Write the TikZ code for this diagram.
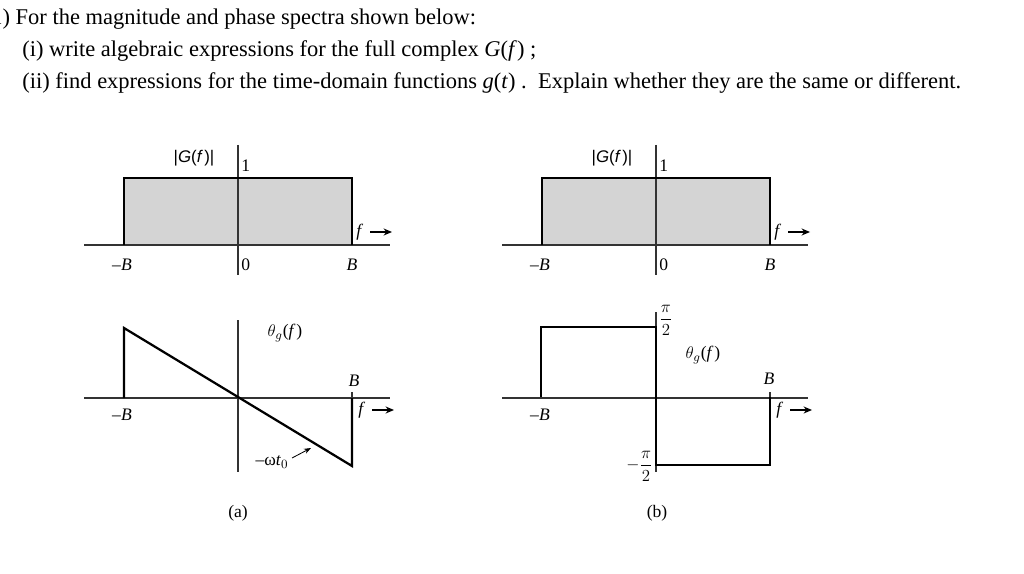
\documentclass[tikz,border=0pt]{standalone}
\usepackage{fontspec}
\usetikzlibrary{arrows.meta}
\setmainfont{Liberation Serif}
\newfontfamily\lab{Liberation Sans}
\begin{document}
\begin{tikzpicture}[x=0.25mm,y=-0.25mm,
  ax/.style={line width=0.8pt,black!80},
  sig/.style={line width=1.6pt},
  hdr/.style={anchor=base west,inner sep=0,font=\fontsize{16}{18}\selectfont},
  lbl/.style={inner sep=0,font=\fontsize{12.5}{14}\selectfont},
  tip/.style={-{Stealth[length=6pt,width=5pt]},line width=0.8pt}]
\useasboundingbox[clip] (0,0) rectangle (1024,574);
\fill[white] (0,0) rectangle (1024,574);
\node[hdr] (h1) at (-9,25) {1) For the magnitude and phase spectra shown below:};
\node[hdr] (h2) at (22,57) {(i) write algebraic expressions for the full complex \textit{G}(\textit{f}) ;};
\node[hdr] (h3) at (22,89) {(ii) find expressions for the time-domain functions \textit{g}(\textit{t}) .\enspace Explain whether they are the same or different.};
\foreach \o/\n in {0/a,418/b}{
\begin{scope}[xshift=\o*0.25mm]
 \fill[black!17] (124,178) rectangle (352,245);
 \draw[ax] (84,245) -- (390,245);
 \draw[ax] (238,145) -- (238,275);
 \draw[sig] (124,245) -- (124,178) -- (352,178) -- (352,245);
 \node[lbl,font=\lab\fontsize{12}{14}\selectfont] (m\n) at (194,158) {|\textit{G}(\textit{f\,})|};
 \node[lbl,anchor=west] (one\n) at (241,166) {1};
 \node[lbl] (mb\n) at (122,265) {\textit{–B}};
 \node[lbl,anchor=west] (z\n) at (241,265) {0};
 \node[lbl] (pb\n) at (352,265) {\textit{B}};
 \node[lbl,anchor=west] (f\n) at (356,232) {\textit{f}};
 \coordinate (fa\n) at (370,232); \coordinate (fb\n) at (392,232);
 \draw[tip] (fa\n) -- (fb\n);
 \draw[ax] (84,398) -- (390,398);
 \node[lbl] (mbb\n) at (122,415) {\textit{–B}};
 \node[lbl,anchor=west] (ff\n) at (358,410) {\textit{f}};
 \coordinate (fc\n) at (372,410); \coordinate (fd\n) at (394,410);
 \draw[tip] (fc\n) -- (fd\n);
\end{scope}}
% (a) phase
\draw[ax] (238,320) -- (238,472);
\draw[ax] (352,392) -- (352,398);
\draw[sig,line join=miter] (124,398) -- (124,328) -- (352,466) -- (352,398);
\node[lbl] (tha) at (285,333) {$\theta_g$(\textit{f\,})};
\node[lbl] (Ba) at (354,381) {\textit{B}};
\node[lbl] (wt) at (272,462) {–ω\textit{t}$_0$};
\coordinate (wa) at (292,458); \coordinate (wb) at (311,448);
\draw[-{Stealth[length=5pt]},line width=0.6pt] (wa) -- (wb);
\node[lbl] (capa) at (238,513) {(a)};
% (b) phase
\draw[ax] (656,312) -- (656,472);
\draw[ax] (770,392) -- (770,397);
\draw[sig] (541,397) -- (541,327) -- (656,327) -- (656,465) -- (770,465) -- (770,397);
\node[lbl,anchor=west] (pi1) at (659,320) {$\displaystyle\frac{\pi}{2}$};
\node[lbl] (thb) at (703,355) {$\theta_g$(\textit{f\,})};
\node[lbl] (Bb) at (769,379) {\textit{B}};
\node[lbl,anchor=east] (pi2) at (653,466) {$\displaystyle-\frac{\pi}{2}$};
\node[lbl] (capb) at (657,513) {(b)};
\end{tikzpicture}
\end{document}
